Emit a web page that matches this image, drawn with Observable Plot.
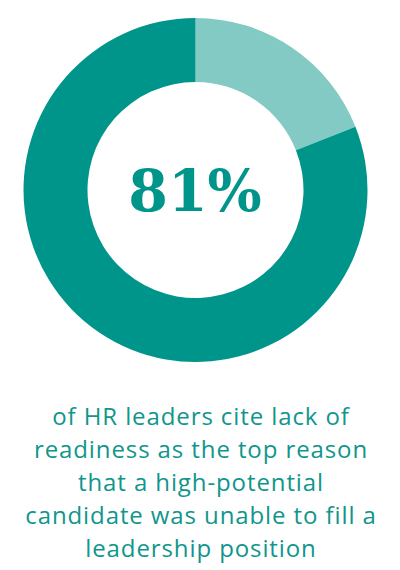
<!DOCTYPE html>
<html><head><meta charset="utf-8">
<script src="https://cdn.jsdelivr.net/npm/d3@7"></script>
<script src="https://cdn.jsdelivr.net/npm/@observablehq/plot@0.6"></script>
<style>
body{margin:0;background:#fff;width:400px;height:570px;overflow:hidden}
#caption{font-family:"Open Sans",sans-serif;font-size:24px;letter-spacing:0.9px;line-height:33px;color:#10968c;text-align:center;margin:19px 0 0 1px;width:400px}
svg{display:block}
</style></head><body>
<div id="chart"></div>
<div id="caption"></div>
<script>
const categories = ["Other", "Lack of readiness"];
const values = [19, 81];
const colors = ["#84cac4", "#00958a"];
const centerLabel = "81%";
const captionLines = ["of HR leaders cite lack of", "readiness as the top reason", "that a high-potential", "candidate was unable to fill a", "leadership position"];

const data = categories.map((c, i) => ({category: c, value: values[i]}));
const colorScale = Plot.scale({color: {domain: categories, range: colors}});
const arcs = d3.pie().sort(null).value(d => d.value)(data);

const donut = (index, scales, vals, dims) => {
  const cx = scales.x ? scales.x(0) : dims.width / 2;
  const cy = scales.y ? scales.y(0) : dims.height / 2;
  const arc = d3.arc().innerRadius(108).outerRadius(172);
  const g = d3.create("svg:g").attr("transform", `translate(${cx},${cy})`);
  g.selectAll("path").data(arcs).join("path")
    .attr("d", arc)
    .attr("fill", d => colorScale.apply(d.data.category));
  return g.node();
};

const chart = Plot.plot({
  width: 400, height: 380,
  marginLeft: 0, marginRight: 9, marginTop: 0, marginBottom: 0,
  x: {domain: [-1, 1], axis: null},
  y: {domain: [-1, 1], axis: null},
  marks: [
    donut,
    Plot.text([centerLabel], {x: 0, y: 0, text: d => d, fontSize: 57, fontWeight: "bold", fontFamily: "DejaVu Serif", fill: "#00958a", dy: 2, dx: -1})
  ]
});
document.getElementById("chart").appendChild(chart);
document.getElementById("caption").innerHTML = captionLines.map(l => `<div>${l}</div>`).join("");
</script>
</body></html>
